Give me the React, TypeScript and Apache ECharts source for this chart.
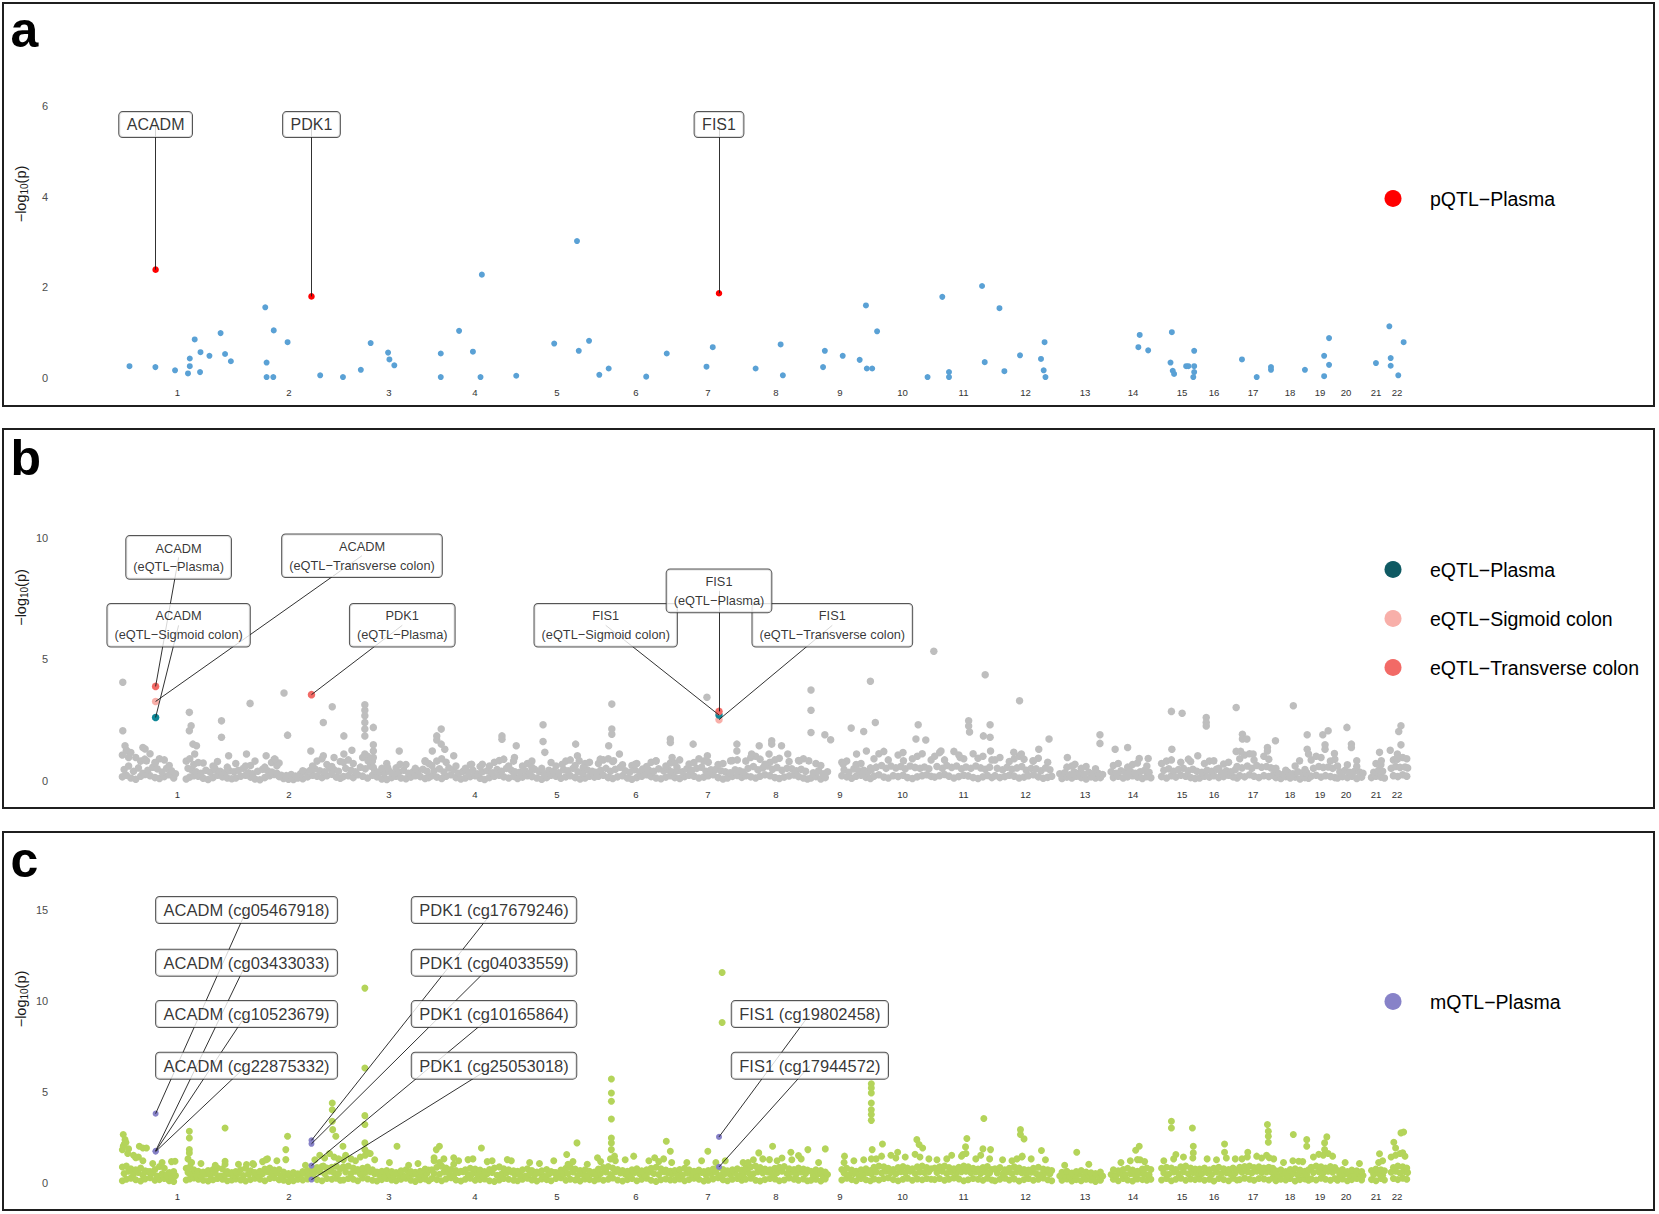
import React, { useEffect, useRef } from "react";
import * as echarts from "echarts";

// ---------------- axis data ----------------
const chromNames = ["1","2","3","4","5","6","7","8","9","10","11","12","13","14","15","16","17","18","19","20","21","22"];
// cumulative genome position (Mb) where each chromosome label sits
const chromTickPos = [124.5, 374.2, 598.1, 790.6, 974.3, 1151.2, 1312.4, 1464.6, 1608, 1747.9, 1884.5, 2023.3, 2156.5, 2264, 2373.7, 2445.4, 2532.7, 2615.6, 2682.7, 2740.9, 2808.1, 2855.1];

// gene positions (cumulative Mb)
const geneNames = ["ACADM", "PDK1", "FIS1"];
const genePos = [75.5, 424.5, 1337];

// ---------------- panel a : pQTL ----------------
const pqtlBackground = [
  [17,0.26],[75,0.24],[119,0.17],[148,0.10],[152,0.26],[152,0.43],[163,0.85],[176,0.57],[175,0.13],[196,0.49],[221,0.99],[231,0.53],[244,0.37],
  [321,1.56],[324,0.34],[324,0.02],[340,1.05],[339,0.02],[371,0.79],[444,0.06],
  [495,0.02],[535,0.18],[557,0.77],[596,0.56],[599,0.41],[610,0.28],
  [714,0.54],[714,0.02],[755,1.04],[786,0.58],[806,2.28],[803,0.02],
  [883,0.05],[968,0.76],[1019,3.02],[1023,0.60],[1046,0.82],[1069,0.07],[1090,0.21],[1174,0.03],[1220,0.54],
  [1309,0.25],[1323,0.68],[1419,0.21],[1475,0.74],[1480,0.06],
  [1570,0.24],[1574,0.60],[1614,0.49],[1652,0.40],[1666,1.60],[1668,0.21],[1680,0.21],[1691,1.03],
  [1804,0.02],[1837,1.79],[1852,0.13],[1852,0.02],[1926,2.03],[1932,0.35],[1965,1.54],[1976,0.15],
  [2011,0.50],[2058,0.42],[2064,0.17],[2066,0.79],[2068,0.02],
  [2276,0.68],[2279,0.95],[2298,0.61],
  [2351,1.01],[2348,0.34],[2353,0.16],[2356,0.09],[2383,0.26],[2388,0.26],[2401,0.60],[2401,0.26],[2401,0.13],[2399,0.02],
  [2508,0.41],[2541,0.02],[2573,0.24],[2573,0.18],[2649,0.18],[2692,0.49],[2692,0.04],[2703,0.88],[2703,0.29],
  [2808,0.33],[2838,1.14],[2841,0.44],[2841,0.27],[2858,0.06],[2870,0.79]
];
const pqtlHitValues = [2.39, 1.80, 1.87]; // ACADM, PDK1, FIS1

// ---------------- probe positions (per chromosome, cumulative Mb) ----------------
const probePos = [
  [1,10,20,31,42,52,63,74,84,95,106,116,144,152,161,171,182,193,204,214,225,236,246],
  [255,266,277,288,298,309,320,331,341,352,362,373,384,394,405,416,427,437,448,459,470,480,489],
  [496,507,518,528,539,550,561,571,582,593,604,614,625,636,647,657,668,679,687],
  [694,705,716,726,737,748,759,769,780,791,802,812,823,834,845,855,866,877],
  [886,897,908,918,929,940,951,961,972,983,994,1004,1015,1026,1037,1047,1058],
  [1067,1078,1089,1099,1110,1121,1132,1142,1153,1164,1175,1185,1196,1207,1218,1228],
  [1238,1249,1260,1270,1281,1292,1303,1313,1324,1335,1346,1356,1367,1378,1388],
  [1397,1408,1419,1429,1440,1451,1462,1472,1483,1494,1505,1515,1526,1535],
  [1543,1554,1565,1575,1612,1623,1634,1644,1655,1666,1676],
  [1684,1695,1706,1716,1727,1738,1749,1759,1770,1781,1792,1802,1812],
  [1820,1831,1842,1852,1863,1874,1885,1895,1906,1917,1928,1938,1948],
  [1955,1966,1977,1987,1998,2009,2020,2030,2041,2052,2063,2073,2082],
  [2105,2116,2127,2137,2148,2159,2170,2180,2191],
  [2220,2231,2242,2252,2263,2274,2285,2295,2304],
  [2328,2339,2350,2360,2371,2382,2393,2403],
  [2413,2424,2435,2445,2456,2467,2478,2488,2497],
  [2503,2514,2525,2535,2546,2557,2568,2577],
  [2584,2595,2606,2616,2627,2638,2649,2657],
  [2663,2674,2685,2695,2706,2716],
  [2722,2733,2744,2754,2765,2776],
  [2798,2808,2819,2827],
  [2847,2857,2868,2877]
];
const probePosAlt = [
  [5,15,26,37,47,58,69,79,90,100,111,120,148,156,166,177,188,198,209,220,231,241],
  [251,261,272,283,293,304,315,326,336,347,357,368,379,389,400,411,422,432,443,454,465,475,485],
  [501,513,523,534,545,556,566,577,588,599,609,620,631,642,652,663,674,683],
  [699,711,721,732,743,754,764,775,786,797,807,818,829,840,850,861,872,880],
  [891,903,913,924,935,946,956,967,978,989,999,1010,1021,1032,1042,1053,1061],
  [1072,1084,1094,1105,1116,1127,1137,1148,1159,1170,1180,1191,1202,1213,1223,1231],
  [1243,1255,1265,1276,1287,1298,1308,1319,1330,1341,1351,1362,1373,1383,1391],
  [1402,1414,1424,1435,1446,1457,1467,1478,1489,1500,1510,1521,1531],
  [1548,1560,1570,1580,1617,1628,1639,1650,1661,1671,1678],
  [1689,1701,1711,1722,1733,1744,1754,1765,1776,1787,1797,1807],
  [1825,1837,1847,1858,1869,1880,1890,1901,1912,1923,1933,1943],
  [1960,1972,1982,1993,2004,2015,2025,2036,2047,2058,2068,2078],
  [2100,2111,2122,2132,2143,2154,2165,2175,2186,2196],
  [2215,2226,2237,2247,2258,2269,2280,2290,2300],
  [2333,2344,2355,2366,2377,2388,2398,2407],
  [2418,2430,2440,2451,2462,2473,2483,2493],
  [2508,2520,2530,2541,2552,2563,2573,2579],
  [2589,2601,2611,2622,2633,2644,2653],
  [2668,2680,2690,2701,2711],
  [2727,2739,2749,2760,2771,2779],
  [2803,2814,2823],
  [2842,2852,2862,2873,2879]
];

// ---------------- panel b : eQTL ----------------
const eqtlBackgroundA = [
  [0.15,0.22,0.1,0.05,0.18,0.25,0.2,0.12,0.08,0.16,0.24,0.1,0.06,0.14,0.2,0.18,0.09,0.04,0.12,0.22,0.15,0.1,0.07],
  [0.1,0.18,0.22,0.14,0.06,0.03,0.12,0.2,0.25,0.16,0.08,0.05,0.04,0.1,0.07,0.15,0.22,0.18,0.12,0.2,0.26,0.14,0.09],
  [0.16,0.2,0.12,0.24,0.18,0.1,0.22,0.15,0.06,0.04,0.12,0.18,0.1,0.07,0.14,0.2,0.16,0.08,0.12],
  [0.2,0.14,0.08,0.18,0.24,0.12,0.06,0.1,0.16,0.2,0.09,0.04,0.12,0.18,0.22,0.15,0.1,0.17],
  [0.08,0.14,0.2,0.16,0.1,0.05,0.12,0.22,0.18,0.09,0.15,0.2,0.12,0.06,0.1,0.18,0.14],
  [0.18,0.22,0.12,0.08,0.15,0.2,0.1,0.05,0.12,0.18,0.24,0.16,0.1,0.07,0.14,0.2],
  [0.12,0.08,0.16,0.22,0.18,0.1,0.14,0.2,0.24,0.12,0.06,0.1,0.17,0.21,0.13],
  [0.2,0.15,0.1,0.18,0.24,0.2,0.12,0.08,0.14,0.19,0.23,0.16,0.1,0.06],
  [0.1,0.16,0.06,0.12,0.2,0.15,0.09,0.18,0.22,0.13,0.08],
  [0.18,0.24,0.14,0.1,0.2,0.16,0.22,0.12,0.08,0.15,0.2,0.24,0.17],
  [0.14,0.2,0.25,0.18,0.1,0.16,0.22,0.19,0.12,0.08,0.15,0.21,0.12],
  [0.2,0.12,0.16,0.22,0.18,0.1,0.14,0.2,0.24,0.15,0.09,0.13,0.18],
  [0.08,0.14,0.1,0.18,0.12,0.06,0.15,0.1,0.12],
  [0.12,0.18,0.1,0.15,0.2,0.14,0.08,0.16,0.11],
  [0.16,0.1,0.2,0.14,0.22,0.18,0.12,0.08],
  [0.1,0.18,0.14,0.2,0.12,0.16,0.22,0.15,0.1],
  [0.2,0.15,0.24,0.18,0.12,0.2,0.16,0.22],
  [0.12,0.08,0.16,0.1,0.14,0.06,0.12,0.09],
  [0.18,0.22,0.14,0.2,0.16,0.12],
  [0.1,0.16,0.12,0.18,0.08,0.14],
  [0.12,0.18,0.14,0.1],
  [0.2,0.16,0.24,0.18]
];
// mid layer, read at probePosAlt
const eqtlBackgroundM = [
  [0.45,0.6,0.38,0.52,0.3,0.42,0.55,0.48,0.35,0.5,0.4,0.28,0.5,0.44,0.36,0.3,0.42,0.34,0.46,0.38,0.32,0.4],
  [0.36,0.42,0.5,0.32,0.28,0.38,0.46,0.4,0.35,0.3,0.22,0.2,0.25,0.18,0.28,0.35,0.42,0.48,0.4,0.36,0.5,0.44,0.38],
  [0.5,0.42,0.36,0.55,0.48,0.6,0.4,0.34,0.3,0.38,0.28,0.35,0.42,0.3,0.36,0.4,0.46,0.38],
  [0.4,0.48,0.35,0.52,0.44,0.3,0.38,0.34,0.42,0.28,0.36,0.4,0.32,0.45,0.38,0.5,0.42,0.36],
  [0.34,0.4,0.3,0.46,0.36,0.28,0.42,0.38,0.32,0.45,0.4,0.5,0.36,0.3,0.44,0.38,0.34],
  [0.42,0.5,0.38,0.46,0.55,0.4,0.34,0.44,0.36,0.3,0.42,0.38,0.48,0.4,0.45,0.36],
  [0.4,0.36,0.48,0.42,0.5,0.55,0.38,0.44,0.46,0.4,0.36,0.32,0.44,0.4,0.35],
  [0.5,0.58,0.44,0.52,0.6,0.46,0.54,0.42,0.5,0.48,0.4,0.46,0.38],
  [0.32,0.4,0.28,0.36,0.44,0.34,0.48,0.4,0.42,0.36,0.44],
  [0.55,0.62,0.5,0.6,0.52,0.58,0.48,0.6,0.54,0.5,0.56,0.48],
  [0.58,0.5,0.62,0.54,0.6,0.48,0.56,0.5,0.6,0.52,0.46,0.55],
  [0.5,0.44,0.55,0.46,0.52,0.58,0.42,0.5,0.48,0.4,0.52,0.44],
  [0.28,0.32,0.24,0.36,0.3,0.26,0.34,0.28,0.3,0.25],
  [0.36,0.3,0.4,0.34,0.38,0.3,0.36,0.42,0.34],
  [0.42,0.48,0.38,0.45,0.5,0.4,0.46,0.38],
  [0.34,0.42,0.38,0.46,0.32,0.4,0.36,0.44],
  [0.52,0.6,0.5,0.62,0.55,0.58,0.52,0.48],
  [0.3,0.26,0.34,0.28,0.36,0.3,0.32],
  [0.5,0.58,0.54,0.56,0.5],
  [0.36,0.42,0.34,0.38,0.35,0.3],
  [0.34,0.42,0.38],
  [0.5,0.58,0.54,0.56,0.52]
];
// upper layer (null = no probe read there)
const eqtlBackgroundB = [
  [1.05,1.25,1.15,0.95,0.8,1.3,1.1,0.74,0.9,0.85,0.62,null,0.8,0.9,0.66,null,0.72,null,0.6,0.78,null,0.55,null],
  [0.7,null,0.6,0.62,0.8,null,0.55,null,0.88,0.72,null,null,null,null,0.4,null,0.6,0.8,0.9,0.66,0.58,null,0.78],
  [0.75,0.85,0.7,null,0.95,1.0,0.8,null,0.5,0.7,null,0.52,null,0.66,null,0.5,null,0.78,0.7],
  [0.62,0.8,0.9,0.75,null,0.6,null,0.5,0.65,null,0.58,null,0.6,0.75,0.82,null,0.6,0.8],
  [null,0.6,0.7,0.8,null,0.5,null,0.74,0.6,null,0.8,0.85,0.62,null,0.7,0.75,null],
  [0.7,0.85,0.9,0.78,null,0.65,null,0.62,0.7,null,0.58,0.75,0.8,null,0.6,0.72],
  [0.72,0.85,null,0.68,null,0.9,0.8,0.75,null,0.66,0.7,null,0.82,0.85,null],
  [0.8,0.95,1.0,0.88,null,0.75,0.85,0.92,null,0.78,null,0.82,0.9,null],
  [null,0.7,0.62,null,0.75,0.8,null,0.66,0.7,null,0.52],
  [0.9,1.1,1.2,0.85,null,1.05,1.15,null,0.9,1.0,1.1,null,0.85],
  [1.0,1.15,0.85,null,1.2,1.05,0.9,null,1.1,0.92,1.0,null,0.85],
  [0.85,0.95,null,0.78,0.9,1.0,0.88,null,0.8,0.92,null,0.75,null],
  [null,0.55,0.6,null,0.5,0.58,null,0.48,null],
  [0.62,0.7,null,0.55,0.66,0.72,null,0.6,null],
  [0.7,0.8,0.85,null,0.75,null,0.78,null],
  [null,0.7,0.8,null,0.5,0.68,0.75,null,0.58],
  [0.9,1.05,1.1,0.85,null,1.0,0.88,null],
  [0.5,null,0.42,null,0.6,null,0.45,null],
  [0.85,1.0,0.95,null,0.8,0.88],
  [0.6,null,0.65,null,0.58,null],
  [null,0.7,0.65,null],
  [0.85,1.0,0.95,0.9]
];
const eqtlPeaks = [
  [2,4.05],[2,2.05],[7,1.43],[11,1.22],[15,0.95],[47,1.36],[51,0.88],[55,0.81],[75,0.74],
  [151,2.81],[155,2.26],[151,2.05],[159,1.5],[167,1.43],[163,1.09],[171,0.74],[223,2.46],[223,1.78],[239,1.02],[207,0.54],
  [287,3.18],[279,1.09],[323,1.02],[335,0.74],[347,0.61],[363,3.61],[371,1.87],[343,0.88],[423,1.22],[451,2.39],[471,3.04],[451,1.02],[475,0.95],
  [497,1.84],[515,1.25],[497,1.09],
  [544,3.12],[544,2.9],[544,2.67],[544,2.39],[544,2.12],[563,2.19],[544,1.84],[563,1.47],[563,1.22],[544,1.09],[563,0.95],[551,0.81],[563,0.54],[621,1.22],[595,0.54],[623,0.67],[679,0.81],
  [715,2.12],[705,1.84],[705,1.67],[715,1.5],[695,1.22],[723,1.29],[743,1.02],[783,0.67],[807,0.67],[851,1.84],[851,1.7],[855,0.88],[883,1.43],[879,0.95],
  [943,2.3],[943,1.61],[947,1.16],[918,0.54],[986,0.67],[1016,1.5],[1020,1.02],[1024,0.81],[1033,0.54],
  [1097,3.15],[1097,2.12],[1097,1.91],[1090,1.43],[1114,1.09],[1071,0.88],[1101,0.81],[1149,0.67],[1166,0.47],[1196,0.81],[1228,1.71],[1228,1.57],[1232,0.95],
  [1279,1.5],[1310,3.43],[1311,1.02],[1281,0.74],[1243,0.54],[1377,1.5],[1377,1.22],[1363,0.81],
  [1427,1.43],[1455,1.64],[1455,1.5],[1477,1.43],[1410,1.09],[1449,1.09],[1491,1.09],[1440,0.67],[1517,0.81],[1538,0.81],
  [1543,3.73],[1543,2.9],[1543,1.98],[1574,1.89],[1587,1.68],[1633,2.16],[1661,2.02],[1676,4.09],[1687,2.39],[1615,0.67],[1645,1.09],[1667,1.22],
  [1783,2.3],[1778,1.71],[1800,1.67],[1818,5.33],[1750,0.81],
  [1933,4.36],[1896,2.46],[1896,2.25],[1944,2.3],[1929,1.84],[1944,1.78],[1898,2.0],[1834,1.22],[1877,0.95],[1945,1.22],
  [2010,3.29],[2076,1.71],[1997,1.16],[2014,1.09],[2053,1.29],[2040,0.81],
  [2117,0.95],[2134,0.67],
  [2190,1.89],[2190,1.53],[2224,1.29],[2252,1.36],[2278,0.91],[2298,0.91],
  [2350,2.85],[2374,2.77],[2351,1.29],[2388,0.88],[2409,1.02],
  [2428,2.6],[2428,2.39],[2428,2.25],[2445,0.81],
  [2495,3.01],[2509,1.91],[2509,1.71],[2519,1.71],[2495,1.2],[2505,1.2],[2533,1.09],[2565,1.36],[2565,1.22],[2583,1.64],
  [2623,3.08],[2637,0.81],
  [2654,1.89],[2654,1.29],[2657,1.09],[2689,1.89],[2701,2.05],[2694,1.47],[2694,1.29],[2715,1.11],
  [2743,2.19],[2753,1.5],[2753,1.36],[2765,0.81],
  [2816,1.16],[2820,0.81],
  [2864,2.26],[2859,2.02],[2864,1.47],[2840,1.25],[2856,1.09],[2856,0.88]
];
const eqtlPlasmaHits = [["ACADM", 2.60], ["FIS1", 2.70]];
const eqtlSigmoidHits = [["ACADM", 3.26], ["FIS1", 2.51]];
const eqtlTransverseHits = [["ACADM", 3.88], ["PDK1", 3.54], ["FIS1", 2.85]];

// ---------------- panel c : mQTL ----------------
const mqtlBackgroundA = [
  [0.1,0.18,0.24,0.15,0.08,0.2,0.26,0.12,0.16,0.22,0.1,0.06,0.14,0.2,0.25,0.18,0.12,0.08,0.15,0.22,0.18,0.1,0.14],
  [0.2,0.14,0.08,0.16,0.24,0.18,0.1,0.22,0.26,0.15,0.12,0.06,0.1,0.18,0.14,0.2,0.25,0.16,0.1,0.22,0.18,0.24,0.12],
  [0.14,0.22,0.18,0.1,0.25,0.2,0.12,0.08,0.16,0.22,0.14,0.1,0.18,0.24,0.12,0.06,0.15,0.2,0.1],
  [0.22,0.16,0.1,0.2,0.26,0.14,0.08,0.18,0.24,0.12,0.16,0.2,0.1,0.06,0.14,0.22,0.18,0.12],
  [0.1,0.18,0.24,0.14,0.08,0.2,0.16,0.1,0.22,0.26,0.12,0.18,0.14,0.08,0.2,0.16,0.1],
  [0.2,0.12,0.18,0.25,0.14,0.08,0.16,0.22,0.1,0.18,0.24,0.12,0.06,0.15,0.2,0.14],
  [0.14,0.2,0.1,0.16,0.24,0.18,0.08,0.12,0.2,0.26,0.15,0.1,0.18,0.22,0.12],
  [0.18,0.24,0.12,0.08,0.16,0.22,0.2,0.1,0.14,0.25,0.18,0.12,0.2,0.1],
  [0.12,0.18,0.08,0.2,0.14,0.24,0.16,0.1,0.22,0.15,0.1],
  [0.2,0.14,0.22,0.26,0.16,0.1,0.18,0.24,0.12,0.2,0.15,0.22,0.18],
  [0.16,0.22,0.12,0.18,0.25,0.2,0.1,0.15,0.22,0.18,0.12,0.24,0.14],
  [0.1,0.18,0.24,0.14,0.2,0.08,0.16,0.22,0.12,0.18,0.25,0.15,0.1],
  [0.12,0.2,0.08,0.16,0.1,0.18,0.14,0.06,0.12],
  [0.18,0.1,0.22,0.14,0.08,0.2,0.16,0.12,0.18],
  [0.14,0.22,0.1,0.18,0.24,0.12,0.2,0.16],
  [0.2,0.12,0.18,0.08,0.22,0.16,0.1,0.24,0.14],
  [0.16,0.24,0.18,0.12,0.22,0.2,0.14,0.25],
  [0.1,0.18,0.14,0.22,0.08,0.16,0.2,0.12],
  [0.2,0.14,0.24,0.18,0.12,0.22],
  [0.12,0.2,0.1,0.16,0.22,0.14],
  [0.16,0.1,0.22,0.14],
  [0.22,0.16,0.24,0.18]
];
// mid layer, read at probePosAlt
const mqtlBackgroundM = [
  [0.5,0.62,0.45,0.55,0.4,0.6,0.52,0.35,0.48,0.42,0.3,0.38,0.55,0.5,0.44,0.38,0.46,0.4,0.52,0.36,0.42,0.48],
  [0.42,0.5,0.38,0.46,0.55,0.4,0.48,0.6,0.44,0.52,0.36,0.4,0.32,0.45,0.38,0.5,0.42,0.55,0.6,0.48,0.62,0.54,0.5],
  [0.58,0.5,0.62,0.46,0.55,0.6,0.48,0.4,0.36,0.44,0.38,0.42,0.35,0.4,0.46,0.38,0.44,0.5],
  [0.5,0.45,0.58,0.52,0.4,0.55,0.6,0.44,0.5,0.42,0.38,0.48,0.55,0.4,0.46,0.52,0.58,0.44],
  [0.42,0.36,0.48,0.4,0.52,0.34,0.45,0.55,0.38,0.46,0.5,0.58,0.4,0.44,0.36,0.48,0.42],
  [0.5,0.58,0.44,0.6,0.52,0.46,0.4,0.55,0.48,0.42,0.56,0.5,0.44,0.6,0.52,0.46],
  [0.44,0.4,0.52,0.46,0.38,0.55,0.42,0.48,0.56,0.4,0.5,0.44,0.52,0.38,0.46],
  [0.55,0.48,0.6,0.52,0.58,0.45,0.54,0.62,0.5,0.56,0.46,0.58,0.5],
  [0.4,0.48,0.36,0.44,0.52,0.42,0.5,0.38,0.46,0.55,0.48],
  [0.58,0.52,0.62,0.55,0.48,0.6,0.54,0.62,0.5,0.58,0.55,0.6],
  [0.55,0.62,0.5,0.58,0.52,0.6,0.62,0.54,0.58,0.5,0.6,0.52],
  [0.52,0.46,0.58,0.5,0.6,0.54,0.48,0.56,0.5,0.44,0.55,0.48],
  [0.36,0.42,0.32,0.4,0.46,0.34,0.4,0.3,0.38,0.35],
  [0.44,0.38,0.5,0.42,0.48,0.4,0.52,0.46,0.42],
  [0.52,0.45,0.58,0.5,0.6,0.48,0.55,0.5],
  [0.48,0.55,0.44,0.58,0.5,0.54,0.46,0.52],
  [0.56,0.6,0.52,0.62,0.55,0.58,0.6,0.54],
  [0.4,0.46,0.38,0.5,0.42,0.48,0.44],
  [0.55,0.6,0.52,0.62,0.56],
  [0.42,0.48,0.4,0.45,0.5,0.38],
  [0.44,0.5,0.4],
  [0.56,0.62,0.52,0.6,0.55]
];
const mqtlBackgroundB = [
  [0.85,0.9,0.75,0.7,0.8,0.65,0.6,0.72,0.88,0.78,0.55,0.6,0.78,0.85,0.7,0.62,0.58,0.66,0.72,0.8,0.75,0.6,0.55],
  [0.6,0.7,0.78,0.65,0.55,0.62,0.74,0.8,0.68,0.72,0.58,0.5,0.55,0.48,0.6,0.66,0.75,0.82,0.88,0.8,0.84,0.9,0.76],
  [0.86,0.9,0.8,0.72,0.78,0.85,0.7,0.58,0.62,0.66,0.6,0.55,0.64,0.7,0.6,0.56,0.62,0.74,0.68],
  [0.7,0.84,0.9,0.8,0.72,0.66,0.62,0.7,0.78,0.74,0.68,0.6,0.72,0.8,0.86,0.76,0.7,0.64],
  [0.62,0.7,0.76,0.66,0.58,0.64,0.72,0.6,0.55,0.68,0.78,0.84,0.74,0.66,0.7,0.62,0.58],
  [0.74,0.82,0.88,0.8,0.72,0.66,0.62,0.7,0.76,0.64,0.7,0.78,0.84,0.76,0.68,0.62],
  [0.66,0.72,0.78,0.7,0.62,0.68,0.6,0.66,0.74,0.8,0.72,0.64,0.7,0.76,0.68],
  [0.8,0.86,0.9,0.82,0.74,0.7,0.78,0.84,0.88,0.76,0.72,0.8,0.74,0.68],
  [0.62,0.7,0.66,0.58,0.72,0.78,0.68,0.62,0.7,0.76,0.66],
  [0.84,0.9,0.86,0.78,0.72,0.82,0.88,0.8,0.76,0.86,0.9,0.82,0.76],
  [0.8,0.86,0.9,0.82,0.76,0.84,0.9,0.86,0.78,0.74,0.82,0.88,0.72],
  [0.76,0.82,0.7,0.78,0.86,0.8,0.72,0.68,0.78,0.84,0.74,0.7,0.66],
  [0.56,0.62,0.52,0.6,0.66,0.58,0.54,0.5,0.58],
  [0.7,0.64,0.72,0.78,0.68,0.62,0.74,0.8,0.72],
  [0.78,0.84,0.8,0.72,0.86,0.9,0.8,0.74],
  [0.74,0.8,0.7,0.78,0.84,0.76,0.72,0.8,0.68],
  [0.84,0.88,0.9,0.82,0.86,0.8,0.84,0.78],
  [0.64,0.7,0.6,0.72,0.76,0.68,0.62,0.7],
  [0.84,0.9,0.86,0.8,0.88,0.82],
  [0.66,0.72,0.6,0.68,0.64,0.6],
  [0.66,0.74,0.7,0.64],
  [0.82,0.9,0.86,0.8]
];
// sparse upper layer (null = no probe read there)
const mqtlBackgroundC = [
  [2.1,1.85,1.5,1.4,1.2,null,1.05,null,1.1,null,1.15,null,1.3,1.1,null,1.05,null,null,0.95,null,1.0,null,null],
  [null,1.0,null,null,1.05,null,1.15,1.3,null,1.2,null,null,null,null,null,0.95,null,1.25,1.5,1.35,1.6,1.4,1.3],
  [1.5,1.3,1.2,1.4,1.5,1.6,1.25,null,null,1.1,null,null,null,0.95,null,1.05,null,null,1.1],
  [1.2,1.1,1.3,null,1.0,1.2,null,null,1.3,null,null,1.15,1.2,null,null,null,1.2,null],
  [null,null,1.1,null,1.05,null,null,1.2,null,null,1.0,1.15,null,null,1.0,null,null],
  [1.15,null,1.3,1.2,null,1.25,null,null,null,null,1.2,null,1.15,1.3,null,1.1],
  [null,null,1.1,null,null,1.2,null,null,1.1,null,1.2,null,null,null,1.1],
  [1.1,1.25,null,1.3,null,null,1.2,1.35,null,1.25,null,1.3,null,null],
  [null,1.1,null,null,1.1,null,1.2,null,1.25,null,1.3],
  [1.3,1.45,null,1.5,1.35,null,1.4,null,1.55,1.4,null,1.3,null],
  [1.25,null,1.3,1.5,null,1.45,1.6,null,1.3,1.5,null,1.3,null],
  [null,1.25,null,1.2,1.3,1.4,null,1.3,null,null,1.25,null,null],
  [null,0.95,null,null,null,null,1.0,null,null],
  [null,null,1.1,null,1.2,null,1.25,1.15,null],
  [1.2,null,1.3,null,1.4,null,1.35,null],
  [null,1.3,null,1.25,null,1.35,null,1.3,null],
  [1.3,1.4,null,1.45,1.35,1.5,null,1.3],
  [null,1.1,null,1.2,null,1.15,null,1.25],
  [1.4,1.55,1.5,1.6,1.45,null],
  [null,1.1,null,null,1.05,null],
  [null,1.1,1.2,null],
  [1.4,1.5,1.6,1.45]
];
const mqtlPeaks = [
  [1,1.8],[3,2.64],[7,2.36],[3,2.0],[9,2.2],[13,1.6],[39,2.0],[47,1.9],[55,1.9],[31,1.36],[119,1.17],
  [151,2.82],[151,2.45],[151,1.81],[151,1.63],[155,1.08],[231,3.0],[231,1.17],
  [279,0.99],[295,0.99],[323,1.26],[367,1.81],[371,2.55],[367,1.26],[451,0.9],[471,4.38],[471,4.0],[471,3.37],[472,2.91],[479,2.55],[495,2.0],[496,1.26],
  [544,10.7],[544,6.3],[544,3.68],[544,3.19],[544,2.18],[544,1.81],[551,1.63],[616,2.0],
  [711,2.0],[704,1.81],[699,1.36],[743,1.36],[775,1.26],[805,1.9],[863,1.26],
  [996,1.54],[1019,2.18],
  [1065,1.36],[1096,5.7],[1096,4.93],[1096,4.47],[1096,3.5],[1096,2.45],[1096,2.18],[1096,1.81],[1103,1.45],[1146,1.45],[1193,1.36],[1219,2.27],[1228,1.72],
  [1312,1.72],[1344,11.56],[1344,8.81],
  [1426,1.63],[1450,1.26],[1457,2.0],[1498,1.67],[1515,1.48],[1536,1.81],
  [1575,1.85],[1618,1.45],[1678,5.44],[1678,5.2],[1678,4.93],[1678,4.38],[1678,4.0],[1678,3.74],[1678,3.42],[1680,1.81],[1703,2.12],
  [1780,2.36],[1785,2.09],[1793,1.9],[1737,1.67],
  [1892,2.42],[1889,1.96],[1883,1.54],[1930,3.52],[1928,1.85],[1945,1.81],
  [2012,2.91],[2012,2.64],[2020,2.4],[2016,1.45],[2059,1.76],
  [2138,1.67],
  [2270,1.78],[2278,2.0],[2274,1.26],
  [2350,3.37],[2350,3.0],[2360,1.54],[2397,3.0],[2399,2.0],[2399,1.63],
  [2469,2.12],[2469,1.67],
  [2521,1.67],[2565,3.19],[2567,2.82],[2567,2.55],[2567,2.22],[2569,1.36],
  [2623,2.64],[2635,1.17],[2653,2.36],[2653,2.0],
  [2693,2.18],[2698,2.51],[2693,1.81],
  [2816,1.58],
  [2864,2.73],[2870,2.78],[2848,2.22],[2852,1.9],[2868,1.63]
];
const mqtlHits = [
  ["ACADM","cg05467918",3.79],["ACADM","cg03433033",1.74],["ACADM","cg10523679",1.72],["ACADM","cg22875332",1.70],
  ["PDK1","cg17679246",2.32],["PDK1","cg04033559",2.13],["PDK1","cg10165864",0.93],["PDK1","cg25053018",0.16],
  ["FIS1","cg19802458",2.51],["FIS1","cg17944572",0.86]
];

// ---------------- label placement (data units) ----------------
const pqtlLabelY = 5.59;
// [gene, tissue text, label x, label y, series holding the connected point]  (last drawn on top)
const eqtlLabelLayout = [
  ["ACADM", "eQTL−Plasma", 127, 9.2, "transverse"],
  ["ACADM", "eQTL−Sigmoid colon", 127, 6.4, "plasma"],
  ["ACADM", "eQTL−Transverse colon", 537.6, 9.27, "sigmoid"],
  ["PDK1", "eQTL−Plasma", 627.8, 6.4, "transverse"],
  ["FIS1", "eQTL−Sigmoid colon", 1083.3, 6.4, "plasma"],
  ["FIS1", "eQTL−Transverse colon", 1590.7, 6.4, "sigmoid"],
  ["FIS1", "eQTL−Plasma", 1337, 7.82, "transverse"]
];
// [probe, label x, label y]
const mqtlLabelLayout = [
  ["cg05467918", 279.2, 15.0], ["cg03433033", 279.2, 12.1], ["cg10523679", 279.2, 9.27], ["cg22875332", 279.2, 6.43],
  ["cg17679246", 833.2, 15.0], ["cg04033559", 833.2, 12.1], ["cg10165864", 833.2, 9.27], ["cg25053018", 833.2, 6.43],
  ["cg19802458", 1540.5, 9.27], ["cg17944572", 1540.5, 6.43]
];

// ---------------- helpers ----------------
const FONT = '"Liberation Sans", Arial, Helvetica, sans-serif';
const X_MIN = -15;
const X_MAX = 2895;

function gx(gene: string) {
  return genePos[geneNames.indexOf(gene)];
}
function zipLayer(pos: number[][], vals: any[][]) {
  const out: number[][] = [];
  pos.forEach((row, i) => {
    row.forEach((x, j) => {
      const v = vals[i] ? vals[i][j] : undefined;
      if (v !== undefined && v !== null) out.push([x, v]);
    });
  });
  return out;
}
function chromLabel(v: number) {
  let best = 0;
  let bd = Infinity;
  chromTickPos.forEach((p, i) => {
    const d = Math.abs(p - v);
    if (d < bd) { bd = d; best = i; }
  });
  return chromNames[best];
}

function buildOption() {
  const gridLeft = 115.2;
  const gridRight = 244.2;
  const grids = [
    { left: gridLeft, right: gridRight, top: 106, bottom: 836 },
    { left: gridLeft, right: gridRight, top: 538, bottom: 433.5 },
    { left: gridLeft, right: gridRight, top: 910, bottom: 31.5 }
  ];
  const yMax = [6, 10, 15];
  const yInt = [2, 5, 5];

  const xAxis = grids.map((_, i) => ({
    type: "value", gridIndex: i, min: X_MIN, max: X_MAX,
    axisLine: { show: false }, axisTick: { show: false }, splitLine: { show: false },
    axisLabel: {
      customValues: chromTickPos,
      formatter: (v: number) => chromLabel(v),
      fontSize: 9.6, color: "#333", margin: 9, fontFamily: FONT
    }
  }));
  const yAxis = grids.map((_, i) => ({
    type: "value", gridIndex: i, min: 0, max: yMax[i], interval: yInt[i],
    axisLine: { show: false }, axisTick: { show: false }, splitLine: { show: false },
    axisLabel: { fontSize: 11, color: "#4d4d4d", margin: 67, fontFamily: FONT }
  }));

  const labelBox = (fontSize: number, lineHeight: number, padding: number[]) => ({
    show: true, position: "inside", formatter: "{b}", color: "#000", fontFamily: FONT,
    fontSize, lineHeight, align: "center", backgroundColor: "#fff",
    borderColor: "#2a2a2a", borderWidth: 1, borderRadius: 3.5, padding
  });
  const lineSeries = (i: number, data: any[]) => ({
    type: "lines", coordinateSystem: "cartesian2d", xAxisIndex: i, yAxisIndex: i,
    data, silent: true, z: 4, clip: false, symbol: ["none", "none"],
    lineStyle: { color: "#1a1a1a", width: 0.9, opacity: 1, curveness: 0 }
  });
  const labelSeries = (i: number, data: any[], label: any) => ({
    type: "scatter", xAxisIndex: i, yAxisIndex: i, data, silent: true, z: 6, clip: false,
    symbolSize: 1, itemStyle: { color: "rgba(0,0,0,0)" }, label
  });
  const dots = (name: string, i: number, data: any[], size: number, color: string, z: number) => ({
    name, type: "scatter", xAxisIndex: i, yAxisIndex: i, data, symbolSize: size,
    itemStyle: { color, opacity: 1 }, clip: true, silent: true, z
  });

  // ---- panel a ----
  const pqtlHits = geneNames.map((g, k) => ({ value: [genePos[k], pqtlHitValues[k]], name: g }));
  const aLines = geneNames.map((g, k) => ({ coords: [[genePos[k], pqtlLabelY], [genePos[k], pqtlHitValues[k]]] }));
  const aLabels = geneNames.map((g, k) => ({ value: [genePos[k], pqtlLabelY], name: g }));

  // ---- panel b ----
  const hitSets: Record<string, any[]> = {
    plasma: eqtlPlasmaHits, sigmoid: eqtlSigmoidHits, transverse: eqtlTransverseHits
  };
  const toPts = (arr: any[]) => arr.map((h) => [gx(h[0]), h[1]]);
  const bLines = eqtlLabelLayout.map((l) => {
    const hit = hitSets[l[4] as string].find((h) => h[0] === l[0]);
    return { coords: [[l[2], l[3]], [gx(l[0] as string), hit[1]]] };
  });
  const bLabels = eqtlLabelLayout.map((l) => ({ value: [l[2], l[3]], name: `${l[0]}\n(${l[1]})` }));
  const eqtlBg = zipLayer(probePos, eqtlBackgroundA).concat(
    zipLayer(probePosAlt, eqtlBackgroundM), zipLayer(probePos, eqtlBackgroundB), eqtlPeaks);

  // ---- panel c ----
  const mqtlBg = zipLayer(probePos, mqtlBackgroundA).concat(
    zipLayer(probePosAlt, mqtlBackgroundM), zipLayer(probePos, mqtlBackgroundB),
    zipLayer(probePosAlt, mqtlBackgroundC), mqtlPeaks);
  const mqtlPts = mqtlHits.map((h) => [gx(h[0] as string), h[2]]);
  const cLines = mqtlLabelLayout.map((l) => {
    const hit = mqtlHits.find((h) => h[1] === l[0]);
    return { coords: [[l[1], l[2]], [gx(hit[0] as string), hit[2]]] };
  });
  const cLabels = mqtlLabelLayout.map((l) => {
    const hit = mqtlHits.find((h) => h[1] === l[0]);
    return { value: [l[1], l[2]], name: `${hit[0]} (${l[0]})` };
  });

  const legendBase = {
    orient: "vertical", left: 1384.5, padding: 0, itemWidth: 17, itemHeight: 17, itemGap: 29,
    selectedMode: false, icon: "circle",
    textStyle: { fontSize: 19.5, color: "#000", fontFamily: FONT, lineHeight: 17, padding: [0, 0, 0, 23.5] }
  };

  const border = (y: number, h: number) => ({
    type: "rect", shape: { x: 3, y, width: 1651, height: h },
    style: { fill: "none", stroke: "#1f1f1f", lineWidth: 2 }, silent: true, z: 1
  });
  const letter = (t: string, y: number) => ({
    type: "text", x: 10.5, y, silent: true,
    style: { text: t, fill: "#000", font: `bold 50px ${FONT}`, textAlign: "left", align: "left", textVerticalAlign: "middle", verticalAlign: "middle" }
  });
  const yTitle = (y: number) => ({
    type: "text", x: 21, y, rotation: Math.PI / 2, silent: true,
    style: {
      text: "{n|−log}{s|10}{n|(p)}", fill: "#1a1a1a", fontFamily: FONT,
      textAlign: "center", align: "center", textVerticalAlign: "middle", verticalAlign: "middle",
      rich: {
        n: { fontSize: 14.5, lineHeight: 17, fontFamily: FONT, fill: "#1a1a1a", color: "#1a1a1a" },
        s: { fontSize: 10, lineHeight: 8, verticalAlign: "bottom", fontFamily: FONT, fill: "#1a1a1a", color: "#1a1a1a" }
      }
    }
  });

  return {
    animation: false,
    backgroundColor: "#fff",
    textStyle: { fontFamily: FONT },
    grid: grids,
    xAxis,
    yAxis,
    legend: [
      { ...legendBase, top: 188.5, data: ["pQTL−Plasma"] },
      { ...legendBase, top: 559.5, data: [
        { name: "eQTL−Plasma", itemStyle: { color: "#0F5A63" } },
        "eQTL−Sigmoid colon",
        "eQTL−Transverse colon"
      ] },
      { ...legendBase, top: 991.5, data: ["mQTL−Plasma"] }
    ],
    graphic: [
      border(3, 403), border(429, 379), border(832, 378),
      letter("a", 29.5), letter("b", 457.5), letter("c", 859.5),
      yTitle(194), yTitle(597.5), yTitle(999)
    ],
    series: [
      // panel a
      dots("pQTL background", 0, pqtlBackground, 6, "#5AA1D5", 2),
      dots("pQTL−Plasma", 0, pqtlHits, 6.5, "#FF0000", 3),
      lineSeries(0, aLines),
      labelSeries(0, aLabels, labelBox(16, 17, [4, 7.5])),
      // panel b
      dots("eQTL background", 1, eqtlBg, 7.5, "#BEBEBE", 2),
      dots("eQTL−Sigmoid colon", 1, toPts(eqtlSigmoidHits), 7.5, "#F8AFA9", 3),
      dots("eQTL−Plasma", 1, toPts(eqtlPlasmaHits), 7.5, "#0E8796", 3),
      dots("eQTL−Transverse colon", 1, toPts(eqtlTransverseHits), 7.5, "#F26A66", 3),
      lineSeries(1, bLines),
      labelSeries(1, bLabels, labelBox(12.8, 18.8, [2.5, 7])),
      // panel c
      dots("mQTL background", 2, mqtlBg, 7, "#B4D45A", 2),
      dots("mQTL−Plasma", 2, mqtlPts, 6, "#8782C8", 3),
      lineSeries(2, cLines),
      labelSeries(2, cLabels, labelBox(16.5, 18, [4, 7.5]))
    ]
  };
}

export default function App() {
  const ref = useRef<HTMLDivElement>(null);
  useEffect(() => {
    if (!ref.current) return;
    const chart = echarts.init(ref.current, null, { renderer: "svg" });
    chart.setOption(buildOption() as any);
    return () => chart.dispose();
  }, []);
  return (
    <div
      ref={ref}
      style={{ position: "absolute", left: 0, top: 0, width: 1659, height: 1214, background: "#fff" }}
    />
  );
}
